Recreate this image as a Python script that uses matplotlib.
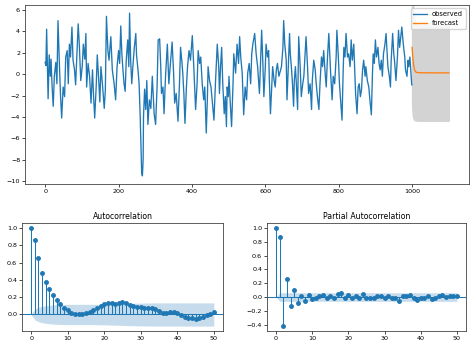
import numpy as np
import matplotlib
matplotlib.use('Agg')
import matplotlib.pyplot as plt

# observed series (time index, value)
obs_t = [0, 2, 4, 6, 8, 11, 14, 16, 19, 22, 25, 29, 32, 35, 39, 42, 45, 49, 53, 56,
         60, 63, 66, 69, 73, 76, 80, 83, 87, 90, 93, 97, 101, 104, 108, 111, 113, 117, 121, 125,
         129, 132, 135, 139, 142, 146, 149, 152, 156, 161, 164, 167, 171, 174, 179, 183, 188, 192, 196, 200,
         203, 206, 209, 212, 215, 218, 221, 225, 228, 230, 233, 236, 239, 243, 247, 249, 253, 256, 259, 263,
         265, 267, 268, 271, 274, 277, 280, 284, 288, 292, 297, 301, 305, 308, 312, 315, 317, 321, 324, 328,
         333, 337, 342, 346, 350, 353, 357, 362, 366, 369, 373, 375, 378, 381, 385, 388, 392, 396, 401, 405,
         410, 414, 417, 421, 424, 428, 432, 435, 439, 442, 444, 448, 452, 455, 460, 464, 469, 473, 475, 478,
         481, 484, 488, 491, 494, 496, 499, 501, 504, 508, 512, 514, 519, 523, 527, 530, 533, 537, 541, 545,
         549, 552, 556, 560, 563, 566, 571, 575, 579, 584, 587, 590, 593, 596, 600, 602, 606, 609, 611, 614,
         618, 620, 624, 627, 630, 633, 637, 640, 644, 648, 650, 653, 657, 659, 662, 666, 668, 671, 674, 677,
         679, 682, 685, 688, 691, 695, 698, 702, 705, 708, 711, 715, 718, 722, 726, 728, 732, 736, 738, 742,
         746, 749, 753, 756, 759, 763, 766, 769, 773, 776, 778, 782, 785, 789, 793, 795, 799, 802, 805, 809,
         812, 814, 817, 820, 824, 827, 831, 834, 837, 841, 844, 846, 850, 853, 856, 859, 862, 865, 868, 872,
         874, 878, 882, 885, 889, 892, 894, 897, 900, 903, 907, 910, 913, 916, 919, 922, 926, 929, 932, 934,
         938, 941, 943, 947, 950, 952, 956, 960, 963, 966, 969, 972, 976, 980, 982, 986, 989, 991, 994, 997,
         999]
obs_v = [1.1, 0.8, 4.2, 0.7, -2.3, 1.8, -0.2, 1.4, -1.2, -3.0, -0.2, 1.1, -0.9, 5.0, 0.7, -2.1, -4.1, -1.2, -2.1, 1.6,
         2.2, -0.9, 2.8, 1.6, 4.4, 1.3, 0.4, -1.0, 2.2, 4.7, 2.8, -0.6, 0.7, 2.8, 1.4, 3.8, -1.2, 1.0, -0.2, -2.7,
         0.4, -2.1, -4.1, -1.2, 1.8, -0.6, -2.6, 0.7, -0.9, -3.2, -1.5, 5.4, 2.2, 1.3, 3.5, 0.4, -0.9, -2.4, 0.7, 2.2,
         1.0, 4.5, 1.9, 0.4, -0.9, -1.6, 1.3, 3.2, 0.7, 5.7, 1.3, -0.9, 0.7, 2.5, 3.8, 1.8, 0.4, -0.9, -4.0, -9.2,
         -9.5, -8.0, -4.0, -1.4, -3.3, -0.6, -4.7, -2.4, -3.2, -0.2, -3.7, -4.7, -1.2, 3.2, 3.3, 0.7, -1.8, -1.2, -3.7, -0.2,
         2.8, -0.9, 1.3, 3.0, 0.1, -2.7, -1.8, -4.4, -0.9, 2.5, 1.0, 0.1, -1.8, -4.6, -1.2, 0.7, 2.2, 1.3, 3.6, 0.7,
         -3.3, -0.9, 2.2, 1.0, 1.6, -0.9, -2.4, -1.2, -5.5, -2.4, 0.7, -0.6, -1.2, -2.4, -4.3, -0.9, 2.8, 0.7, -1.8, 0.7,
         2.5, -0.9, -3.7, -2.1, -4.9, -1.2, -2.1, -0.2, -2.4, -4.9, -0.9, 1.9, 0.1, 2.8, 1.0, 3.5, 1.6, 0.1, -3.8, -1.2,
         -2.4, 0.1, 1.0, -0.9, 1.9, 2.8, 3.8, 1.9, 0.7, -1.8, 1.3, 4.1, 1.3, -2.1, 0.7, 2.8, 1.6, 2.2, -0.6, -3.7,
         -0.9, 0.7, -0.6, -1.2, 0.4, 1.0, -0.2, 0.2, 0.7, 2.5, 5.0, 2.8, 1.3, -2.4, 0.1, 3.8, 1.9, 0.7, -0.9, -3.0,
         -0.6, 0.7, -1.2, -3.3, 3.5, 0.7, -2.1, -0.9, -0.2, 1.6, 3.5, 0.7, -1.8, -0.9, -3.3, -0.6, 1.3, 0.4, -0.6, -2.1,
         -3.3, -0.9, 1.6, 0.7, 2.2, 0.1, -1.2, 1.3, 3.8, 1.6, 0.1, -2.4, -0.2, -0.9, 1.6, 4.1, 1.6, -0.9, -2.4, -4.3,
         0.1, 2.5, 1.6, 3.8, 1.6, 1.9, 0.7, 3.2, 1.3, 2.8, 0.1, -1.8, -3.7, -1.2, -0.9, -2.1, -1.5, 0.4, 1.3, -0.2,
         0.7, -0.6, -1.2, -2.4, -3.8, 0.1, 1.9, 1.0, 3.2, 1.6, 2.5, 1.0, 0.4, 1.3, -0.2, 1.9, 2.8, 3.8, 1.9, 0.7,
         -0.2, -1.2, 1.3, 3.8, 1.9, 1.3, -0.6, 1.6, 4.1, 2.5, 3.5, 4.4, 2.8, 1.6, 0.4, -0.2, 1.3, 0.7, 1.6, 0.1,
         -1.0]

# forecast with its confidence interval
fc_t = [1000, 1001, 1002, 1003, 1004, 1005, 1006, 1008, 1010, 1013, 1017, 1025, 1050, 1100]
fc_mean = [2.5, 2.0, 1.6, 1.2, 0.9, 0.7, 0.5, 0.3, 0.2, 0.16, 0.14, 0.13, 0.12, 0.12]
fc_lower = [-2.8, -3.5, -3.85, -4.05, -4.15, -4.22, -4.26, -4.3, -4.32, -4.34, -4.35, -4.35, -4.35, -4.35]
fc_upper = [7.8, 7.5, 7.05, 6.45, 5.95, 5.6, 5.3, 4.9, 4.7, 4.65, 4.63, 4.61, 4.6, 4.6]

# autocorrelation, lags 0..50
acf_vals = [1.0, 0.86, 0.65, 0.48, 0.37, 0.29, 0.22, 0.17, 0.12, 0.08,
            0.05, 0.02, 0.01, 0.0, 0.01, 0.02, 0.03, 0.05, 0.08, 0.10,
            0.12, 0.13, 0.13, 0.12, 0.13, 0.14, 0.13, 0.11, 0.10, 0.09,
            0.09, 0.08, 0.08, 0.07, 0.06, 0.04, 0.02, 0.02, 0.03, 0.03,
            0.02, -0.01, -0.03, -0.04, -0.04, -0.05, -0.04, -0.03, -0.01, 0.01,
            0.03]
acf_band = [0.0, 0.062, 0.082, 0.094, 0.102, 0.107, 0.111, 0.113, 0.115, 0.116,
            0.117, 0.117, 0.117, 0.117, 0.117, 0.117, 0.117, 0.117, 0.118, 0.119,
            0.120, 0.121, 0.123, 0.124, 0.125, 0.127, 0.128, 0.129, 0.130, 0.131,
            0.131, 0.132, 0.133, 0.133, 0.134, 0.134, 0.134, 0.134, 0.134, 0.134,
            0.134, 0.134, 0.134, 0.134, 0.134, 0.134, 0.134, 0.134, 0.134, 0.134,
            0.134]

# partial autocorrelation, lags 0..50
pacf_vals = [1.0, 0.87, -0.42, 0.26, -0.13, 0.10, -0.08, 0.01, -0.05, 0.03,
             -0.03, -0.02, 0.02, 0.03, -0.01, 0.02, -0.01, 0.04, 0.06, -0.02,
             0.03, -0.02, 0.02, -0.01, 0.05, -0.01, -0.02, -0.01, 0.02, 0.02,
             -0.01, 0.02, -0.02, -0.01, -0.05, 0.01, 0.01, 0.03, -0.01, -0.04,
             -0.02, -0.02, 0.02, -0.03, -0.02, 0.01, 0.03, 0.0, 0.01, 0.02,
             0.01]
pacf_band = [0.0] + [0.062] * 50

lags = np.arange(len(acf_vals))

plt.rcParams['font.size'] = 4.6
plt.rcParams['axes.linewidth'] = 0.6
plt.rcParams['axes.edgecolor'] = '#444444'
plt.rcParams['xtick.major.size'] = 2
plt.rcParams['ytick.major.size'] = 2
plt.rcParams['xtick.major.width'] = 0.5
plt.rcParams['ytick.major.width'] = 0.5
plt.rcParams['xtick.major.pad'] = 1.5
plt.rcParams['ytick.major.pad'] = 1.5

fig = plt.figure(figsize=(4.74, 3.51), dpi=100)

# top: series and forecast
ax = fig.add_axes([0.0527, 0.4758, 0.9367, 0.51])
ax.plot(obs_t, obs_v, color='C0', lw=0.95, label='observed')
ax.plot(fc_t, fc_mean, color='C1', lw=0.95, label='forecast')
ax.fill_between(fc_t, fc_lower, fc_upper, color='lightgray')
ax.set_xlim(-55, 1155)
ax.set_ylim(-10.26, 6.46)
ax.set_xticks(range(0, 1001, 200))
ax.set_yticks(range(-10, 7, 2))
ax.legend(loc='upper right', fontsize=4.8)


def corr_plot(ax, vals, band, title):
    ax.fill_between(lags, -np.array(band), band, color='C0', alpha=0.25, lw=0)
    ax.vlines(lags, 0, vals, color='C0', lw=0.75)
    ax.plot(lags, vals, 'o', color='C0', markersize=2.5)
    ax.axhline(0, color='C0', lw=0.75)
    ax.margins(0.05)
    ax.set_title(title, fontsize=5.6, pad=3)
    ax.set_xticks(range(0, 51, 10))


ax1 = fig.add_axes([0.0464, 0.057, 0.424, 0.3077])
corr_plot(ax1, acf_vals, acf_band, 'Autocorrelation')
ax1.set_yticks([0.0, 0.2, 0.4, 0.6, 0.8, 1.0])

ax2 = fig.add_axes([0.5633, 0.057, 0.4198, 0.3077])
corr_plot(ax2, pacf_vals, pacf_band, 'Partial Autocorrelation')
ax2.set_yticks([-0.4, -0.2, 0.0, 0.2, 0.4, 0.6, 0.8, 1.0])

fig.savefig('out.png', dpi=100)
